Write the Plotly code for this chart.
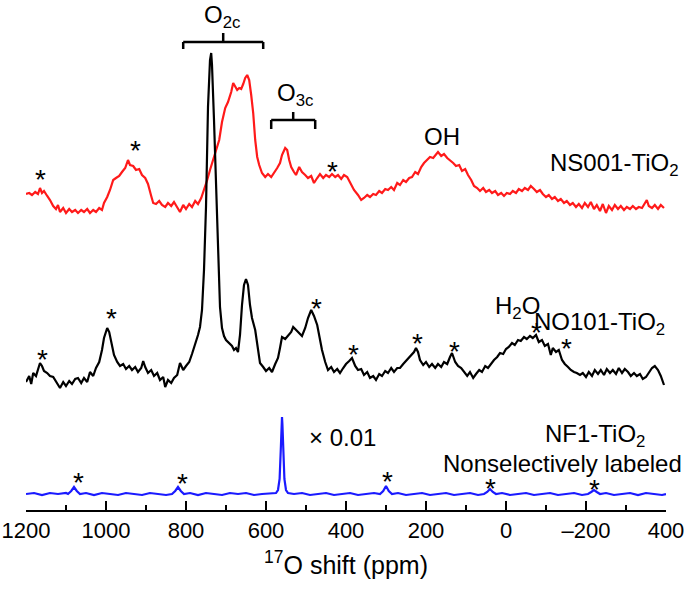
import plotly.graph_objects as go

# ---------------- data ----------------
# 17O shift (ppm) and intensity (arbitrary units, relative to each baseline)
red_ppm = [1200,1192,1185,1177,1170,1165,1160,1155,1147,1140,1132,1125,1120,1115,1107,1100,1092,1085,1077,1070,
           1062,1055,1047,1040,1032,1025,1017,1010,1005,997,990,982,975,967,960,952,945,940,932,925,917,910,902,
           895,887,882,875,867,860,852,845,837,830,822,815,807,800,792,785,777,770,762,755,747,740,732,725,717,
           710,702,695,687,682,677,672,667,662,657,652,647,642,637,632,627,622,617,610,602,595,587,580,572,565,
           560,552,547,542,537,530,525,517,510,502,495,487,480,472,465,457,450,442,435,427,420,412,405,397,390,
           380,370,362,355,347,340,332,325,317,310,302,295,287,280,272,265,257,250,242,235,227,220,212,205,197,
           190,182,175,170,162,155,147,140,132,125,117,110,102,95,87,80,72,65,57,50,42,35,27,20,12,5,-2,-10,-17,
           -25,-32,-40,-47,-55,-62,-70,-77,-85,-92,-100,-107,-115,-122,-130,-137,-145,-152,-160,-167,-175,-182,
           -190,-197,-205,-212,-220,-227,-235,-242,-250,-257,-265,-272,-280,-287,-295,-302,-310,-317,-325,-332,
           -340,-347,-352,-357,-365,-372,-380,-387,-395]
red_int = [16,17,15,18,16,22,17,19,14,10,4,1,5,-2,2,-3,1,-2,0,-3,
           0,-2,1,-3,0,-2,2,0,7,13,20,30,32,34,38,42,50,45,44,40,41,35,32,
           26,14,7,6,9,5,3,7,4,8,2,-2,5,1,6,3,9,6,12,20,30,40,50,60,70,
           88,102,108,118,127,124,120,122,121,126,132,135,130,115,97,70,53,45,37,33,36,33,37,42,47,
           55,62,60,50,43,38,35,43,38,35,32,34,27,32,36,32,35,33,36,33,35,31,35,33,27,
           20,15,10,12,15,13,16,15,19,17,21,20,23,20,27,25,30,28,32,33,38,36,43,47,50,
           53,52,55,58,54,56,52,50,47,44,45,39,41,35,30,24,22,19,22,18,20,17,19,15,17,14,17,16,19,
           17,21,19,22,20,24,21,18,20,16,13,15,11,13,9,11,7,9,5,7,3,6,
           2,7,3,8,1,5,-1,6,-3,4,0,5,1,4,0,3,1,4,1,3,
           2,7,10,4,2,5,1,5,2]

black_ppm = [1200,1192,1187,1182,1175,1170,1165,1160,1155,1147,1140,1132,1125,1120,1115,1107,1100,1092,1085,1077,
             1070,1062,1055,1047,1040,1032,1025,1017,1010,1005,1000,997,992,987,980,972,965,957,950,942,935,927,
             920,912,907,902,895,887,880,872,865,857,852,845,837,830,822,815,807,800,792,785,777,770,765,760,755,
             750,745,740,737,735,730,725,720,715,710,705,700,692,685,680,675,670,665,660,655,650,645,640,635,627,
             620,615,607,600,592,585,577,570,565,560,552,545,537,532,525,517,510,502,495,487,480,472,465,460,452,
             445,437,430,422,415,407,400,392,385,377,370,362,355,347,340,332,325,317,310,302,295,287,280,272,265,
             257,250,242,235,230,225,220,215,207,200,192,185,177,170,162,155,147,140,135,127,120,112,105,97,90,82,
             75,67,60,52,45,37,30,22,15,7,0,-7,-15,-22,-30,-37,-45,-52,-60,-67,-75,-82,-90,-97,-105,-112,-117,
             -125,-132,-140,-147,-155,-162,-170,-177,-185,-192,-200,-207,-215,-222,-230,-237,-245,-252,-260,-267,
             -275,-282,-290,-297,-305,-312,-320,-327,-335,-342,-350,-357,-365,-372,-380,-387,-395]
black_int = [-7,-1,-9,2,-1,7,12,9,4,2,-1,-2,-7,-10,-13,-7,-11,-6,-9,-4,
             -3,-8,-3,-7,3,-1,7,13,25,37,45,47,43,33,20,13,9,11,6,9,5,8,
             3,7,14,8,2,5,-1,2,-5,-2,-12,-5,-8,-3,0,12,5,9,13,21,30,40,48,65,105,
             168,268,315,322,310,255,195,125,68,47,39,35,32,29,25,27,23,40,70,90,96,90,70,57,45,
             27,12,8,4,7,3,11,17,27,38,36,39,43,48,45,42,39,47,57,65,59,50,35,25,13,
             5,8,3,6,2,7,11,14,17,9,5,6,0,3,-3,-1,-5,1,-1,4,2,7,3,7,7,
             11,14,17,21,23,27,23,15,10,13,8,11,7,11,8,13,11,18,22,13,9,7,3,-1,3,-3,
             1,5,3,9,7,12,15,18,22,21,26,28,32,30,35,34,38,36,39,37,40,33,35,29,31,20,27,
             23,25,15,11,8,5,3,2,0,2,-2,3,-1,5,1,5,0,6,2,5,
             1,7,2,6,3,-1,2,-1,1,-4,-2,2,7,9,5,-1,-10]

blue_ppm = [1200,1180,1160,1140,1120,1100,1095,1087,1080,1073,1065,1050,1030,1010,990,970,950,930,910,890,870,
            850,835,827,820,813,805,790,770,750,730,710,690,670,650,630,610,590,575,570,566,563,561,560,559,557,
            554,550,545,530,510,490,470,450,430,410,390,370,350,330,315,307,300,293,285,270,250,230,210,190,170,
            150,130,110,90,70,55,47,40,33,25,10,-10,-30,-50,-70,-90,-110,-130,-150,-170,-190,-205,-213,-220,-227,
            -235,-250,-270,-290,-310,-330,-350,-370,-390,-400]
blue_int = [0,1,-1,1,0,1,0,3,7,3,0,1,-1,1,0,-1,1,0,-1,1,0,
            -1,0,3,7,3,0,1,-1,1,0,-1,1,0,1,-1,0,1,1,4,15,45,70,77,70,45,
            15,4,1,0,1,-1,0,1,-1,0,1,-1,0,1,0,3,8,3,0,1,-1,0,1,-1,0,
            1,-1,0,1,-1,0,2,5,2,0,1,-1,0,1,-1,0,1,-1,0,1,-1,0,2,4,2,
            0,1,-1,0,1,-1,1,0,-1,0]

# vertical offsets of the three stacked spectra
red_offset = 300
black_offset = 135
blue_offset = 16

red_stars = [1165, 927, 435]
red_star_y = [337, 366, 345]
black_stars = [1160, 987, 475, 382, 222, 130, -77, -150]
black_star_y = [157, 198, 208, 162, 173, 165, 184, 168]
blue_stars = [1070, 810, 297, 40, -220]
blue_star_y = [34, 33, 35, 28, 27]

tick_vals = [1200, 1000, 800, 600, 400, 200, 0, -200, -400]
tick_text = ["1200", "1000", "800", "600", "400", "200", "0", "\u2013200", "400"]
minor_vals = [1100, 900, 700, 500, 300, 100, -100, -300]

FONT = "Liberation Sans, Arial, Helvetica, sans-serif"

fig = go.Figure()
fig.add_trace(go.Scatter(x=red_ppm, y=[v + red_offset for v in red_int], mode="lines",
                         line=dict(color="#ff1a1a", width=2.2), hoverinfo="skip"))
fig.add_trace(go.Scatter(x=black_ppm, y=[v + black_offset for v in black_int], mode="lines",
                         line=dict(color="black", width=2.2), hoverinfo="skip"))
fig.add_trace(go.Scatter(x=blue_ppm, y=[v + blue_offset for v in blue_int], mode="lines",
                         line=dict(color="#1a1aff", width=2.2), hoverinfo="skip"))

annotations = []
def txt(x, y, text, size=24, xanchor="center", yanchor="middle"):
    annotations.append(dict(x=x, y=y, xref="x", yref="y", text=text, showarrow=False,
                            font=dict(family=FONT, size=size, color="black"),
                            xanchor=xanchor, yanchor=yanchor))

for xs, ys in [(red_stars, red_star_y), (black_stars, black_star_y), (blue_stars, blue_star_y)]:
    for x, y in zip(xs, ys):
        txt(x, y - 6, "*", size=28)

txt(711, 494, "O<sub>2c</sub>")
txt(527, 416, "O<sub>3c</sub>")
txt(159, 374, "OH")
txt(-105, 346, "NS001-TiO<sub>2</sub>", xanchor="left")
txt(33, 203, "H<sub>2</sub>O", xanchor="left")
txt(-65, 187, "NO101-TiO<sub>2</sub>", xanchor="left")
txt(497, 73, "\u00d7 0.01", xanchor="left")
txt(-92, 75, "NF1-TiO<sub>2</sub>", xanchor="left")
txt(162, 47, "Nonselectively labeled", xanchor="left")

shapes = []
def seg(x0, y0, x1, y1):
    shapes.append(dict(type="line", xref="x", yref="y", x0=x0, y0=y0, x1=x1, y1=y1,
                       line=dict(color="black", width=2.5)))
# O2c bracket
seg(807, 468, 607, 468); seg(807, 468, 807, 461); seg(607, 468, 607, 461); seg(707, 468, 707, 477)
# O3c bracket
seg(587, 390, 477, 390); seg(587, 390, 587, 381); seg(477, 390, 477, 381); seg(532, 390, 532, 398)

fig.update_layout(
    width=685, height=591,
    margin=dict(l=26, r=19, t=0, b=81),
    paper_bgcolor="white", plot_bgcolor="white",
    showlegend=False,
    annotations=annotations, shapes=shapes,
    font=dict(family=FONT, color="black"),
    xaxis=dict(range=[1200, -400], showgrid=False, zeroline=False,
               showline=True, linecolor="black", linewidth=2,
               tickmode="array", tickvals=tick_vals, ticktext=tick_text,
               ticks="inside", ticklen=9, tickwidth=2, tickcolor="black",
               tickfont=dict(family=FONT, size=22, color="black"),
               minor=dict(tickmode="array", tickvals=minor_vals, ticks="inside",
                          ticklen=5, tickwidth=2, tickcolor="black"),
               title=dict(text="<sup>17</sup>O shift (ppm)", standoff=14,
                          font=dict(family=FONT, size=25, color="black"))),
    yaxis=dict(range=[0, 510], visible=False, fixedrange=True),
)
fig.write_html("out.html")
